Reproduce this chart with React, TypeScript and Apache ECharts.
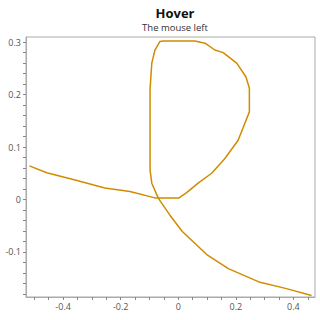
import React, { useEffect, useRef } from "react";
import * as echarts from "echarts";

const xValues = [
  -0.517, -0.457, -0.365, -0.255, -0.168, -0.081, 0.003, 0.029, 0.069, 0.116,
  0.162, 0.208, 0.247, 0.247, 0.235, 0.203, 0.156, 0.127, 0.093, 0.058,
  -0.052, -0.064, -0.081, -0.092, -0.098, -0.098, -0.092, -0.069, -0.029, 0.014,
  0.099, 0.174, 0.284, 0.376, 0.463,
];
const yValues = [
  0.064, 0.051, 0.038, 0.022, 0.015, 0.003, 0.003, 0.013, 0.031, 0.05,
  0.078, 0.113, 0.167, 0.212, 0.234, 0.26, 0.28, 0.285, 0.298, 0.302,
  0.302, 0.301, 0.285, 0.26, 0.21, 0.056, 0.031, 0.002, -0.03, -0.061,
  -0.105, -0.132, -0.158, -0.17, -0.183,
];
const xTickValues = [-0.5, -0.45, -0.4, -0.35, -0.3, -0.25, -0.2, -0.15, -0.1, -0.05, 0, 0.05, 0.1, 0.15, 0.2, 0.25, 0.3, 0.35, 0.4, 0.45];
const xLabelValues = [-0.4, -0.2, 0, 0.2, 0.4];
const yTickValues = [-0.18, -0.16, -0.14, -0.12, -0.1, -0.08, -0.06, -0.04, -0.02, 0, 0.02, 0.04, 0.06, 0.08, 0.1, 0.12, 0.14, 0.16, 0.18, 0.2, 0.22, 0.24, 0.26, 0.28, 0.3];
const yLabelValues = [-0.1, 0, 0.1, 0.2, 0.3];

const FONT = "'Open Sans', 'Noto Sans', sans-serif";
const fmt = (v: number) => String(+Number(v).toFixed(2));

export default function App() {
  const ref = useRef<HTMLDivElement>(null);
  useEffect(() => {
    if (!ref.current) return;
    const chart = echarts.init(ref.current, undefined, { renderer: "svg" });
    const axisCommon = {
      type: "value" as const,
      splitLine: { show: false },
      axisLine: { show: true, onZero: false, lineStyle: { color: "#aaa", width: 1 } },
      axisTick: { show: true, length: 3, lineStyle: { color: "#888" } },
      axisLabel: { fontSize: 9, color: "#555", fontFamily: FONT, formatter: fmt, margin: 5 },
    };
    chart.setOption({
      animation: false,
      title: {
        text: "Hover",
        subtext: "The mouse left",
        left: 170,
        top: 1,
        textAlign: "center",
        itemGap: 3,
        textStyle: { fontSize: 13, fontWeight: "bold", color: "#111", fontFamily: FONT },
        subtextStyle: { fontSize: 9.5, color: "#333", fontFamily: FONT },
      },
      grid: { left: 26, right: 5, top: 37, bottom: 23, show: true, borderColor: "#aaa", borderWidth: 1, containLabel: false },
      xAxis: {
        ...axisCommon,
        min: -0.529,
        max: 0.475,
        axisTick: { ...axisCommon.axisTick, customValues: xTickValues },
        axisLabel: { ...axisCommon.axisLabel, customValues: xLabelValues },
      },
      yAxis: {
        ...axisCommon,
        min: -0.186,
        max: 0.3098,
        axisTick: { ...axisCommon.axisTick, customValues: yTickValues },
        axisLabel: { ...axisCommon.axisLabel, customValues: yLabelValues },
      },
      series: [
        {
          type: "line",
          data: xValues.map((x, i) => [x, yValues[i]]),
          showSymbol: false,
          symbol: "none",
          lineStyle: { color: "#cf8c00", width: 1.5 },
          itemStyle: { color: "#cf8c00" },
        },
      ],
    });
    return () => chart.dispose();
  }, []);
  return (
    <div
      ref={ref}
      style={{ position: "fixed", left: 0, top: 0, width: 320, height: 320, background: "#fff" }}
    />
  );
}
